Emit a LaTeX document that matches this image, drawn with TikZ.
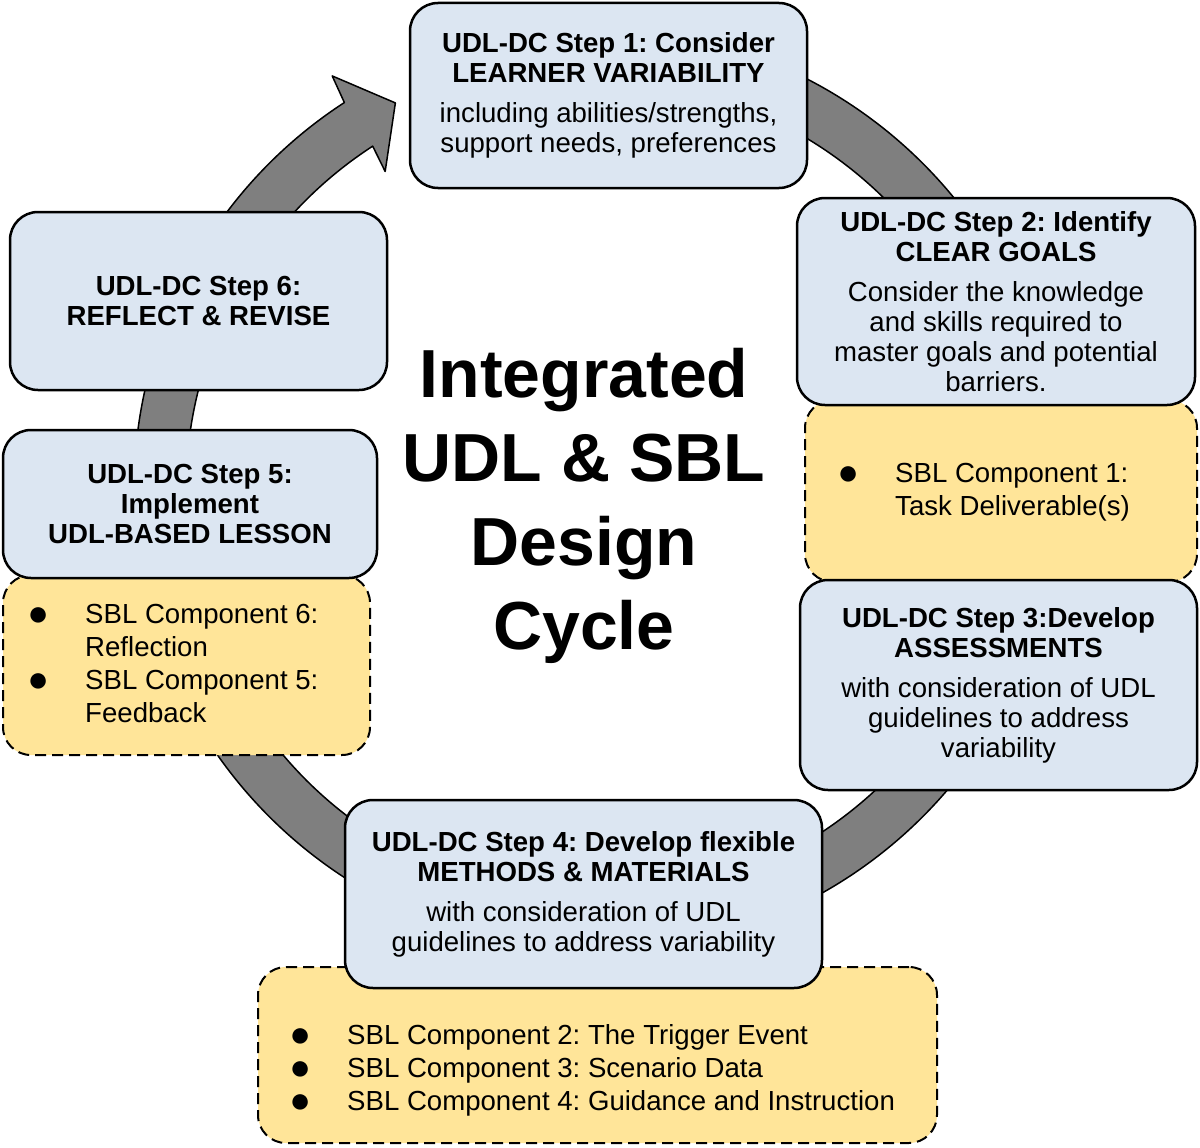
\documentclass[tikz,border=0pt]{standalone}
\usepackage{fontspec}
\usepackage{graphicx}
\setmainfont{Liberation Sans}
\frenchspacing
\definecolor{udlblue}{HTML}{DCE6F2}
\definecolor{sblyellow}{HTML}{FFE599}
\definecolor{ringgray}{HTML}{7F7F7F}
\newcommand{\bigbul}{\makebox[30pt][c]{\smash{\raisebox{-2pt}{\scalebox{1.3}{●}}}}\hspace{32pt}}
\begin{document}
\begin{tikzpicture}[x=1pt,y=1pt,
  stepbox/.style={draw=black, line width=2.5pt, fill=udlblue, rounded corners=28pt, align=center, font=\fontsize{27.6}{30}\selectfont, inner sep=0pt},
  sblbox/.style={draw=black, line width=2pt, dash pattern=on 11pt off 6pt, fill=sblyellow, rounded corners=28pt, inner sep=0pt},
  sbltext/.style={anchor=west, align=left, inner sep=0pt, font=\fontsize{27.6}{33}\selectfont},
  titletext/.style={align=center, font=\fontsize{68}{84}\selectfont\bfseries, inner sep=0pt}]
\useasboundingbox (0,0) rectangle (1200,-1148);

% circular arrow
\begin{scope}[shift={(596,-490)}]
\filldraw[fill=ringgray, draw=black, line width=1.5pt, line join=round]
  (95:462) arc[start angle=95, end angle=-237, radius=462]
  -- (122.5:491) -- (117.4:436) -- (123.5:382) -- (123:410)
  arc[start angle=123, end angle=455, radius=410] -- cycle;
\end{scope}

% SBL boxes
\node[sblbox, minimum width=392pt, minimum height=182pt] (b1) at (1001,-491) {};
\node[sblbox, minimum width=367pt, minimum height=180pt] (b56) at (186.5,-665) {};
\node[sblbox, minimum width=679pt, minimum height=176pt] (b234) at (597.5,-1055) {};

% UDL steps
\node[stepbox, minimum width=397pt, minimum height=185pt] (s1) at (608.5,-95.5)
  {\textbf{UDL-DC Step 1: Consider}\\\textbf{LEARNER VARIABILITY}\\[10pt]including abilities/strengths,\\support needs, preferences};
\node[stepbox, minimum width=398pt, minimum height=207pt] (s2) at (996,-301.5)
  {\textbf{UDL-DC Step 2: Identify}\\\textbf{CLEAR GOALS}\\[10pt]Consider the knowledge\\and skills required to\\master goals and potential\\barriers.};
\node[stepbox, minimum width=397pt, minimum height=210pt] (s3) at (998.5,-685)
  {\textbf{UDL-DC Step 3:Develop}\\\textbf{ASSESSMENTS}\\[10pt]with consideration of UDL\\guidelines to address\\variability};
\node[stepbox, minimum width=477pt, minimum height=188pt] (s4) at (583.5,-894)
  {\textbf{UDL-DC Step 4: Develop flexible}\\\textbf{METHODS \& MATERIALS}\\[10pt]with consideration of UDL\\guidelines to address variability};
\node[stepbox, minimum width=374pt, minimum height=148pt] (s5) at (190,-504)
  {\textbf{UDL-DC Step 5:}\\\textbf{Implement}\\\textbf{UDL-BASED LESSON}};
\node[stepbox, minimum width=377pt, minimum height=178pt] (s6) at (198.5,-301)
  {\textbf{UDL-DC Step 6:}\\\textbf{REFLECT \& REVISE}};

% SBL texts
\node[sbltext] (t1) at (833,-492.5)
  {\bigbul SBL Component 1:\\\hspace*{62pt}Task Deliverable(s)};
\node[sbltext] (t56) at (23,-663)
  {\bigbul SBL Component 6:\\\hspace*{62pt}Reflection\\\bigbul SBL Component 5:\\\hspace*{62pt}Feedback};
\node[sbltext] (t234) at (285,-1070.5)
  {\bigbul SBL Component 2: The Trigger Event\\\bigbul SBL Component 3: Scenario Data\\\bigbul SBL Component 4: Guidance and Instruction};

% title
\node[titletext] (title) at (584,-506) {Integrated\\UDL \& SBL\\Design\\Cycle};
\end{tikzpicture}
\end{document}
